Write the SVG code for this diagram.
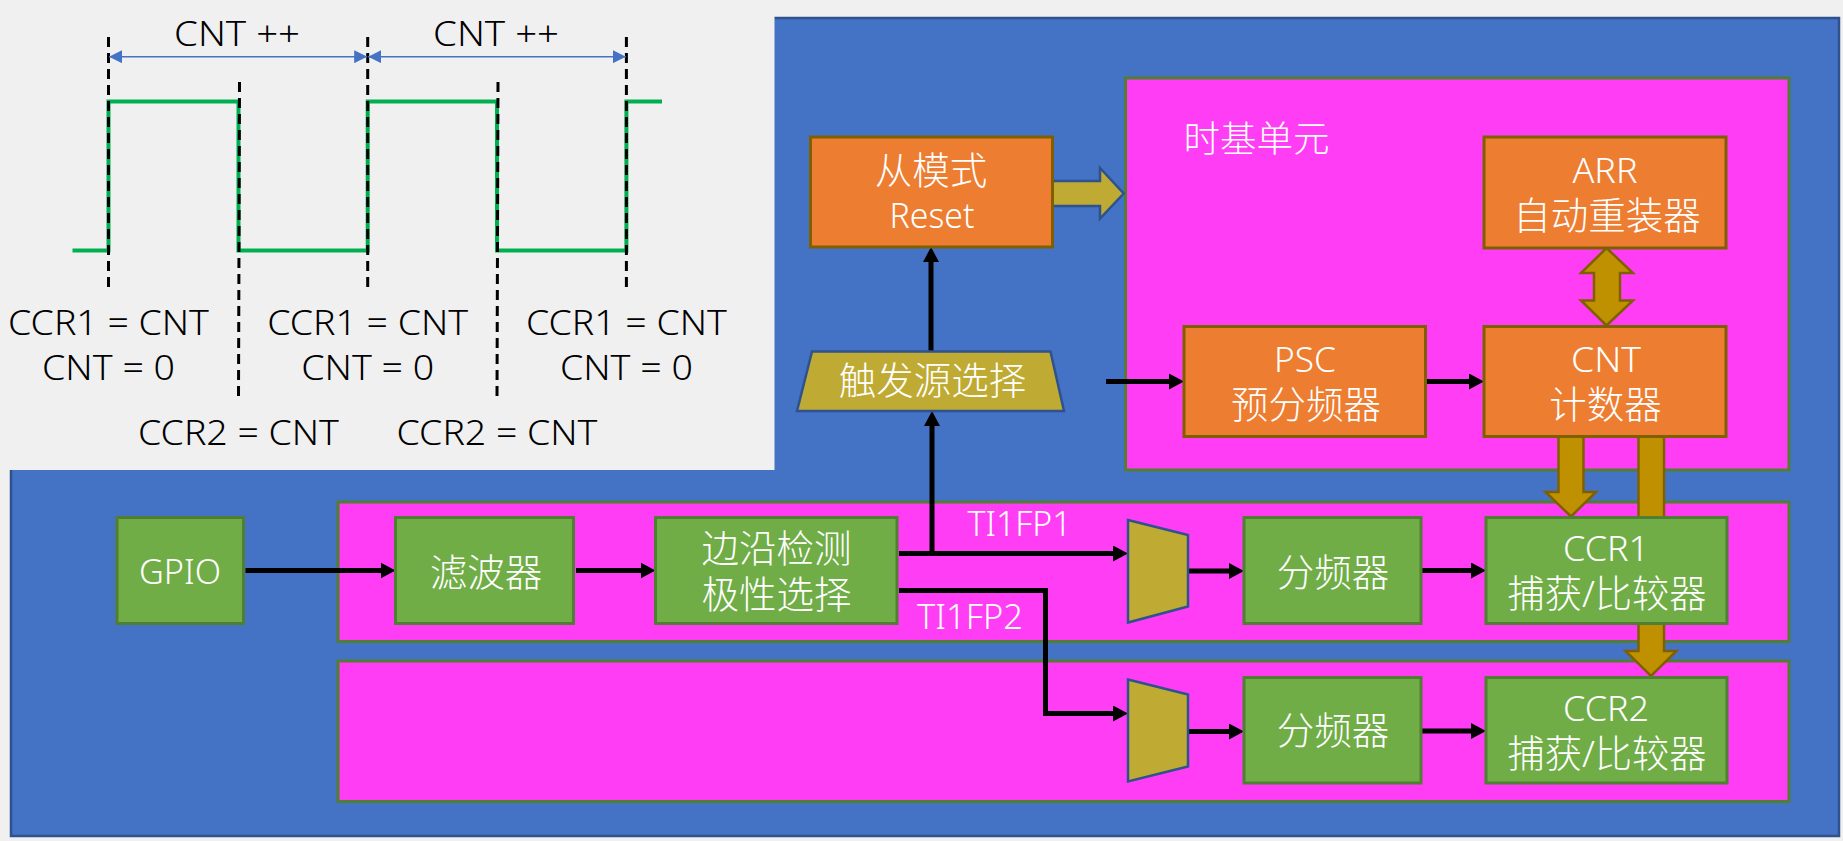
<svg xmlns="http://www.w3.org/2000/svg" width="1843" height="841" viewBox="0 0 1843 841">
<style>
text{font-family:"Noto Sans","Noto Sans CJK SC","Liberation Sans",sans-serif;text-anchor:middle;font-weight:300}
.w{fill:#fff}.k{fill:#000}
.s33{font-size:34px}.s34{font-size:35px}.s37{font-size:37.500px}
.panel{fill:#FF3DF5;stroke:#507E32;stroke-width:3}
.o{fill:#ED7D31;stroke:#7F6000;stroke-width:3}
.g{fill:#70AD47;stroke:#507E32;stroke-width:3}
.t{fill:#BFAB33;stroke:#2F528F;stroke-width:2.5}
.line{fill:none;stroke:#000;stroke-width:5}
.arr{marker-end:url(#ah)}
.gold{fill:#BF9000;stroke:#7F6000;stroke-width:2.5}
.dash{fill:none;stroke:#000;stroke-width:3;stroke-dasharray:10 6}
.span{fill:none;stroke:#4472C4;stroke-width:1.500;marker-start:url(#bh);marker-end:url(#bh)}
</style>
<defs>
<marker id="ah" markerUnits="userSpaceOnUse" markerWidth="15" markerHeight="16" viewBox="0 0 15 16" refX="5" refY="8" orient="auto"><path d="M0 0L15 8L0 16Z" fill="#000"/></marker>
<marker id="bh" markerUnits="userSpaceOnUse" markerWidth="13" markerHeight="13" viewBox="0 0 13 13" refX="13" refY="6.500" orient="auto-start-reverse"><path d="M0 0L13 6.500L0 13Z" fill="#4472C4"/></marker>
</defs>
<rect width="1843" height="841" fill="#F0F0F0"/>
<g id="background">
<rect x="11" y="18" width="1828" height="818" fill="#4472C4" stroke="#2F528F" stroke-width="2.500"/>
<rect x="0" y="0" width="774.500" height="470" fill="#F0F0F0"/>
</g>
<g id="panels">
<rect id="panel-timebase" class="panel" x="1125.500" y="78" width="663.500" height="392"/>
<rect id="panel-ch1" class="panel" x="338" y="502" width="1451" height="139.500"/>
<rect id="panel-ch2" class="panel" x="338" y="661" width="1451" height="140.500"/>
</g>
<g id="timing">
<path d="M72.500 250.500H108.500V101.500H238.500V250.500H367.700V101.500H497V250.500H626.400V101.500H662" fill="none" stroke="#00B050" stroke-width="4"/>
<path class="dash" d="M108.500 37V293M367.700 37V293M626.400 37V293"/>
<path class="dash" d="M239.500 82L238.500 398M498 82L497 398"/>
<path class="span" d="M109 56.700H367.200"/>
<path class="span" d="M368.200 56.700H625.900"/>
<text class="k s33" x="237" y="46" textLength="126" lengthAdjust="spacingAndGlyphs">CNT ++</text>
<text class="k s33" x="496" y="46" textLength="126" lengthAdjust="spacingAndGlyphs">CNT ++</text>
<text class="k s33" x="108.500" y="335" textLength="201" lengthAdjust="spacingAndGlyphs">CCR1 = CNT</text>
<text class="k s33" x="108.500" y="380" textLength="133" lengthAdjust="spacingAndGlyphs">CNT = 0</text>
<text class="k s33" x="367.700" y="335" textLength="201" lengthAdjust="spacingAndGlyphs">CCR1 = CNT</text>
<text class="k s33" x="367.700" y="380" textLength="133" lengthAdjust="spacingAndGlyphs">CNT = 0</text>
<text class="k s33" x="626.400" y="335" textLength="201" lengthAdjust="spacingAndGlyphs">CCR1 = CNT</text>
<text class="k s33" x="626.400" y="380" textLength="133" lengthAdjust="spacingAndGlyphs">CNT = 0</text>
<text class="k s33" x="238.500" y="444.500" textLength="201" lengthAdjust="spacingAndGlyphs">CCR2 = CNT</text>
<text class="k s33" x="497" y="444.500" textLength="201" lengthAdjust="spacingAndGlyphs">CCR2 = CNT</text>
</g>
<g id="connectors">
<polygon class="gold" style="fill:#BFAB33;stroke:#2F528F" points="1052.500,181 1100,181 1100,168 1123.700,193.500 1100,218.500 1100,206 1052.500,206"/>
<polygon class="gold" points="1606.500,248 1633,273 1620,273 1620,300.500 1633,300.500 1606.500,325.500 1581,300.500 1594,300.500 1594,273 1581,273"/>
<polygon class="gold" points="1558.500,436 1583.500,436 1583.500,492 1596,492 1571,516.500 1545.500,492 1558.500,492"/>
<polygon class="gold" points="1638.500,436 1664,436 1664,651 1676.500,651 1651,676 1625.500,651 1638.500,651"/>
<path class="line arr" d="M931 351V257"/>
<path class="line arr" d="M932 553.500V421"/>
<path class="line arr" d="M1106 381.500H1174"/>
<path class="line arr" d="M1425.500 381.500H1474"/>
<path class="line arr" d="M245.500 570.500H385.500"/>
<path class="line arr" d="M576 570.500H645.500"/>
<path class="line arr" d="M899 553.500H1118"/>
<path class="line arr" d="M899 590.500H1045.500V713.500H1118"/>
<path class="line arr" d="M1188 571H1234"/>
<path class="line arr" d="M1421 570.500H1476"/>
<path class="line arr" d="M1188 731.500H1234"/>
<path class="line arr" d="M1421 731H1476"/>
</g>
<g id="label-timebase"><text class="w" style="font-size:36.500px" x="1256.500" y="152">时基单元</text></g>
<g id="node-slave"><rect class="o" x="810.500" y="137" width="242" height="110"/><text class="w s37" x="931" y="184">从模式</text><text class="w s34" x="932" y="227.500" textLength="85" lengthAdjust="spacingAndGlyphs">Reset</text></g>
<g id="node-arr"><rect class="o" x="1484" y="137" width="242" height="111"/><text class="w s34" x="1605" y="182.500" textLength="65" lengthAdjust="spacingAndGlyphs">ARR</text><text class="w s37" x="1607" y="229">自动重装器</text></g>
<g id="node-psc"><rect class="o" x="1184" y="326.500" width="241.500" height="110"/><text class="w s34" x="1305" y="371.500" textLength="62" lengthAdjust="spacingAndGlyphs">PSC</text><text class="w s37" x="1306" y="418">预分频器</text></g>
<g id="node-cnt"><rect class="o" x="1484" y="326.500" width="242" height="110"/><text class="w s34" x="1606" y="371.500" textLength="70" lengthAdjust="spacingAndGlyphs">CNT</text><text class="w s37" x="1605.500" y="418">计数器</text></g>
<g id="node-trigger"><polygon class="t" points="812,351.500 1050.500,351.500 1064,411 797,411"/><text class="w s37" x="932.500" y="394">触发源选择</text></g>
<g id="node-gpio"><rect class="g" x="117" y="517.500" width="126.500" height="106"/><text class="w s34" x="180" y="583.500" textLength="82" lengthAdjust="spacingAndGlyphs">GPIO</text></g>
<g id="node-filter"><rect class="g" x="395.500" y="517.500" width="178" height="106"/><text class="w s37" x="486" y="586">滤波器</text></g>
<g id="node-edge"><rect class="g" x="655.500" y="517.500" width="241.500" height="106"/><text class="w s37" x="776.500" y="562">边沿检测</text><text class="w s37" x="776.500" y="608">极性选择</text></g>
<g id="label-ti1fp1"><text class="w s34" x="1019.500" y="535.500" textLength="104" lengthAdjust="spacingAndGlyphs">TI1FP1</text></g>
<g id="label-ti1fp2"><text class="w s34" x="970" y="628.500" textLength="106" lengthAdjust="spacingAndGlyphs">TI1FP2</text></g>
<g id="node-mux1"><polygon class="t" points="1128,520 1188,535 1188,606.500 1128,622.500"/></g>
<g id="node-mux2"><polygon class="t" points="1128,679.500 1188,694.500 1188,766.500 1128,781.500"/></g>
<g id="node-div1"><rect class="g" x="1244" y="517.500" width="177" height="106"/><text class="w s37" x="1333" y="585.500">分频器</text></g>
<g id="node-div2"><rect class="g" x="1244" y="677.500" width="177" height="105.500"/><text class="w s37" x="1333" y="744">分频器</text></g>
<g id="node-ccr1"><rect class="g" x="1486" y="517.500" width="241" height="106"/><text class="w s34" x="1606" y="560.500" textLength="86" lengthAdjust="spacingAndGlyphs">CCR1</text><text class="w s37" x="1607" y="607" textLength="199" lengthAdjust="spacingAndGlyphs">捕获/比较器</text></g>
<g id="node-ccr2"><rect class="g" x="1486" y="677.500" width="241" height="105.500"/><text class="w s34" x="1606" y="720.500" textLength="86" lengthAdjust="spacingAndGlyphs">CCR2</text><text class="w s37" x="1607" y="767" textLength="199" lengthAdjust="spacingAndGlyphs">捕获/比较器</text></g>
</svg>
